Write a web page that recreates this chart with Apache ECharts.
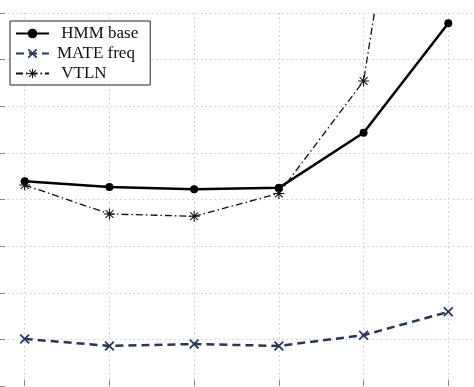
<!DOCTYPE html>
<html>
<head>
<meta charset="utf-8">
<script src="https://cdn.jsdelivr.net/npm/echarts@6/dist/echarts.min.js"></script>
<style>
html,body{margin:0;padding:0;background:#fff;}
#chart{width:474px;height:387px;}
</style>
</head>
<body>
<div id="chart"></div>
<script>
// Data (y in axis units, axis has no visible labels)
const xValues = [1, 2, 3, 4, 5, 6];
const seriesNames = [' HMM base', 'MATE freq', ' VTLN'];
const hmmBase = [4.39, 4.27, 4.22, 4.25, 5.43, 7.78];
const mateFreq = [1.01, 0.86, 0.90, 0.86, 1.09, 1.59];
const vtln = [4.31, 3.69, 3.64, 4.13, 6.54, 18.0];

const xSym = 'path://M0,2.5 L2.5,0 L10,7.5 L17.5,0 L20,2.5 L12.5,10 L20,17.5 L17.5,20 L10,12.5 L2.5,20 L0,17.5 L7.5,10 Z';
const starSym = 'path://M9,0 h2 v20 h-2 Z M0,9 h20 v2 h-20 Z M2.2,3.6 L3.6,2.2 L17.8,16.4 L16.4,17.8 Z M16.4,2.2 L17.8,3.6 L3.6,17.8 L2.2,16.4 Z';

const pairs = arr => xValues.map((x, i) => [x, arr[i]]);

const chart = echarts.init(document.getElementById('chart'), null, {renderer: 'canvas'});
chart.setOption({
  animation: false,
  backgroundColor: '#fff',
  grid: {left: -60, right: -59, top: 13, bottom: 1, containLabel: false, outerBoundsMode: 'none'},
  xAxis: {
    type: 'value', min: 0, max: 7, interval: 1,
    axisLine: {show: false},
    axisLabel: {show: false},
    axisTick: {show: true, inside: true, length: 6, lineStyle: {color: '#888', width: 1}},
    splitLine: {show: true, lineStyle: {color: '#c8c8c8', type: [1.5, 3], width: 1}}
  },
  yAxis: {
    type: 'value', min: 0, max: 8, interval: 1, offset: -60,
    axisLine: {show: false},
    axisLabel: {show: false},
    axisTick: {show: true, inside: true, length: 5, lineStyle: {color: '#888', width: 1}},
    splitLine: {show: true, showMinLine: false, lineStyle: {color: '#c8c8c8', type: [1.5, 3], width: 1}}
  },
  legend: {
    orient: 'vertical', left: 10, top: 21,
    backgroundColor: '#fff', borderColor: '#222', borderWidth: 1,
    padding: [4, 12, 3, 5],
    itemWidth: 33, itemHeight: 12, itemGap: 3,
    textStyle: {fontFamily: 'Liberation Serif', fontSize: 17, lineHeight: 17, color: '#111', padding: [0, 0, 0, 3]},
    data: seriesNames
  },
  series: [
    {
      name: seriesNames[0], type: 'line', data: pairs(hmmBase),
      symbol: 'circle', symbolSize: 8, clip: true,
      lineStyle: {color: '#000', width: 2.5, type: 'solid'},
      itemStyle: {color: '#000'}
    },
    {
      name: seriesNames[1], type: 'line', data: pairs(mateFreq),
      symbol: xSym, symbolSize: 10, clip: true,
      lineStyle: {color: '#22385c', width: 2.5, type: [8, 5]},
      itemStyle: {color: '#22385c'}
    },
    {
      name: seriesNames[2], type: 'line', data: pairs(vtln),
      symbol: starSym, symbolSize: 11, clip: true,
      lineStyle: {color: '#111', width: 1.3, type: [7, 3, 1.5, 3]},
      itemStyle: {color: '#111'}
    }
  ]
});
</script>
</body>
</html>
